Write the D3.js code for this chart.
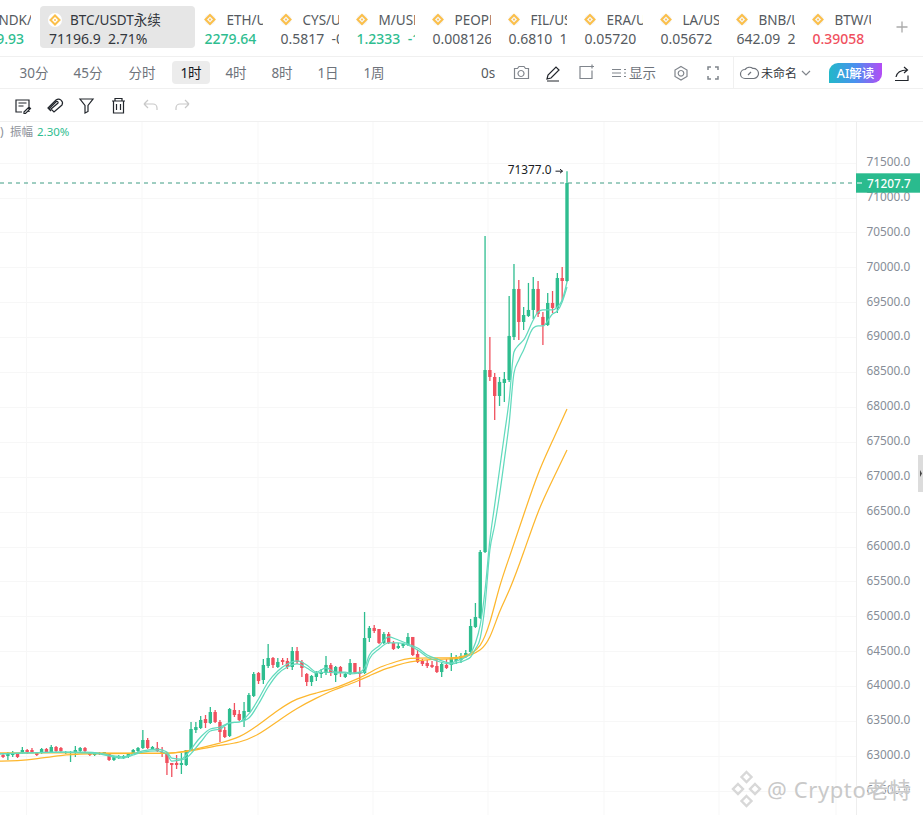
<!DOCTYPE html>
<html>
<head>
<meta charset="utf-8">
<script src="https://cdn.jsdelivr.net/npm/d3@7"></script>
<style>
html, body { margin: 0; padding: 0; background: #fff; overflow: hidden; }
svg { display: block; font-family: "Noto Sans", "Noto Sans CJK SC", sans-serif; }
</style>
</head>
<body>
<script>
// hourly candles, oldest first
var opens = [
	63014,63014,63000,63014,63043,63043,63086,63086,63043,63043,
	63100,63057,63129,63115,63043,63043,63043,63072,63115,63057,
	63014,63043,63043,63043,62943,62971,62971,62986,63043,63072,
	63115,63229,63100,63115,63057,63043,62900,62900,62871,62871,
	63086,63372,63401,63530,63473,63630,63487,63372,63287,63659,
	63602,63516,63630,63860,64189,64089,64289,64404,64275,64375,
	64361,64275,64504,64347,64175,64060,64132,64175,64189,64304,
	64160,64275,64132,64175,64332,64203,64189,64690,64834,64819,
	64619,64748,64619,64547,64576,64590,64705,64461,64361,64332,
	64304,64289,64203,64304,64304,64361,64375,64418,64490,64848,
	64977,65922,68529,68429,68157,68343,68386,69002,69690,69217,
	69303,69389,69690,69289,69174,69489,69418,69847,69804];
var highs = [
	63057,63029,63057,63072,63043,63129,63100,63115,63057,63115,
	63115,63158,63143,63129,63072,63072,63143,63129,63129,63057,
	63057,63057,63057,63043,63000,63014,63014,63043,63100,63129,
	63372,63258,63143,63200,63129,63057,62900,63014,63043,63086,
	63487,63487,63573,63587,63702,63659,63516,63415,63688,63759,
	63659,63774,63902,64203,64203,64390,64604,64418,64404,64404,
	64404,64561,64561,64375,64189,64160,64218,64246,64433,64332,
	64289,64289,64189,64390,64332,64275,65063,64862,64877,64819,
	64776,64776,64647,64619,64619,64762,64705,64519,64390,64375,
	64361,64404,64347,64390,64475,64447,64475,64519,64963,65192,
	65951,70449,69002,68486,68429,68501,69590,70048,69819,69432,
	69776,69862,69804,69360,69632,69661,69919,70005,71377];
var lows = [
	62986,62971,62943,62986,62971,63029,63029,63043,63000,63029,
	63043,63043,63057,63043,63029,62914,62986,63057,63043,63000,
	63000,63014,63029,62928,62928,62957,62957,62971,63029,63057,
	63100,63100,63086,63057,62986,62728,62699,62814,62742,62857,
	63072,63329,63387,63401,63458,63473,63200,63258,63272,63559,
	63501,63415,63630,63845,64031,64031,64261,64261,64261,64304,
	64246,64232,64318,64132,64003,64003,64074,64117,64160,64146,
	64060,64132,64117,64160,64175,63988,64175,64633,64762,64604,
	64604,64604,64519,64533,64547,64576,64433,64332,64289,64261,
	64261,64189,64132,64246,64218,64318,64332,64404,64475,64834,
	64963,65908,68372,67813,68014,68071,68358,68959,68959,69102,
	69289,69260,69289,68888,69160,69346,69346,69504,69790];
var closes = [
	63043,62986,63029,63043,62986,63086,63057,63057,63014,63100,
	63057,63129,63072,63072,63057,63057,63086,63115,63072,63014,
	63043,63029,63057,62943,62986,63000,63000,63029,63086,63115,
	63229,63115,63129,63072,63029,62900,62871,62871,62900,63086,
	63387,63415,63516,63473,63630,63487,63344,63272,63673,63587,
	63516,63645,63874,64175,64074,64304,64404,64304,64347,64347,
	64275,64504,64347,64261,64060,64146,64189,64203,64304,64189,
	64275,64189,64175,64332,64189,64175,64690,64834,64791,64619,
	64748,64619,64533,64576,64604,64705,64447,64347,64318,64289,
	64275,64203,64318,64261,64404,64390,64433,64475,64862,64991,
	65922,68529,68429,68157,68358,68401,69017,69690,69217,69317,
	69389,69690,69332,69174,69489,69418,69847,69804,71207.7];

// moving averages at these candles
var tealAt = [0,6,13,18,21,23,26,28,30,33,35,36,38,39,42,44,46,48,50,52,54,56,58,60,62,64,66,68,70,72,73,75,76,77,79,81,83,85,87,89,91,94,95,97,98,99,100,101,102,103,104,105,106,107,108,109,111,112,113,115,116,117,118];
var tealFast = [63029,63043,63057,63057,63043,63014,62986,63029,63072,63100,63057,62971,62957,63014,63272,63387,63415,63473,63487,63602,63817,64060,64218,64318,64361,64304,64203,64261,64203,64203,64189,64203,64261,64447,64576,64705,64662,64604,64547,64447,64390,64332,64361,64418,64475,64619,64877,65378,66094,66596,67097,67598,68100,68787,68888,68959,69246,69360,69389,69389,69432,69532,69790];
var tealSlow = [63029,63043,63057,63043,63029,63000,62971,63014,63057,63072,63029,62928,62943,62971,63200,63358,63387,63473,63487,63544,63745,63988,64175,64275,64318,64261,64189,64203,64189,64189,64175,64189,64203,64390,64533,64619,64619,64590,64519,64418,64361,64318,64332,64375,64418,64533,64690,65163,65951,66309,66739,67240,67770,68486,68673,68816,69131,69160,69160,69332,69375,69504,69718];
var orangeAt = [0,4,8,13,18,28,37,42,46,50,54,58,62,66,70,72,75,77,79,83,85,90,96,98,100,102,104,106,109,112,115,118];
var orangeFast = [63043,63043,63043,63043,63043,63043,63029,63115,63186,63258,63444,63659,63831,63902,63974,64031,64117,64189,64275,64361,64404,64404,64404,64461,64547,64877,65450,65836,66452,67068,67512,67971];
var orangeSlow = [62928,62928,62957,63014,63029,63043,63029,63100,63158,63186,63301,63501,63688,63831,63960,64003,64089,64146,64218,64304,64347,64390,64390,64447,64504,64662,65091,65349,65908,66524,66954,67383];

var priceTicks = [62500,63000,63500,64000,64500,65000,65500,66000,66500,67000,67500,68000,68500,69000,69500,70000,70500,71000,71500];
var lastPrice = 71207.7;
var maxPrice = 71377.0;

var tickerNames = ['ETH/U','CYS/U','M/USD','PEOPL','FIL/US','ERA/U','LA/US','BNB/U','BTW/U'];
var tickerValues = ['2279.64','0.5817  -0','1.2333  -1','0.008126','0.6810  1','0.05720','0.05672','642.09  2','0.39058'];
var tickerColors = ['#2ebd8f','#555a60','#2ebd8f','#555a60','#555a60','#555a60','#555a60','#555a60','#f0505e'];
var periods = ['30分','45分','分时','1时','4时','8时','1日','1周'];

var w = 923;
var h = 815;
var up = '#2ebd8f';
var down = '#f0505e';
var gridColor = '#f7f7f7';

var svg = d3.select('body').append('svg').attr('width', w).attr('height', h);
var defs = svg.append('defs');

var x = d3.scaleLinear().domain([0, 118]).range([-1.76, 567]);
var y = d3.scaleLinear().domain([63000, 71500]).range([756, 162.6]);

defs.append('clipPath').attr('id', 'plot').append('rect')
	.attr('x', 0).attr('y', 122).attr('width', 856).attr('height', h - 122);

// grid
var gridV = [26.5, 142, 258, 373, 488, 604, 719, 836];
svg.append('g').selectAll('line').data(gridV).enter().append('line')
	.attr('x1', function(d) { return d; })
	.attr('x2', function(d) { return d; })
	.attr('y1', 122).attr('y2', h)
	.attr('stroke', gridColor);
svg.append('g').selectAll('line').data(priceTicks).enter().append('line')
	.attr('x1', 0).attr('x2', 856)
	.attr('y1', function(d) { return Math.round(y(d)) + 0.5; })
	.attr('y2', function(d) { return Math.round(y(d)) + 0.5; })
	.attr('stroke', gridColor);

// price axis
var axis = svg.append('g')
	.attr('transform', 'translate(856.5,-1)')
	.call(d3.axisRight(y).tickValues(priceTicks).tickSize(0).tickPadding(10)
		.tickFormat(function(d) { return d3.format('.1f')(d); }));
axis.select('.domain').attr('stroke', '#eeeeee').attr('d', 'M0,122V' + (h + 1));
axis.selectAll('text')
	.attr('fill', '#868d97')
	.style('font-size', '11.8px')
	.style('font-family', '"Noto Sans", sans-serif');

// candles
var plot = svg.append('g').attr('clip-path', 'url(#plot)');
var candleColor = function(i) { return closes[i] >= opens[i] ? up : down; };
plot.append('g').selectAll('line').data(d3.range(opens.length)).enter().append('line')
	.attr('x1', function(i) { return x(i); })
	.attr('x2', function(i) { return x(i); })
	.attr('y1', function(i) { return y(highs[i]); })
	.attr('y2', function(i) { return y(lows[i]); })
	.attr('stroke', candleColor)
	.attr('stroke-width', 1.3);
plot.append('g').selectAll('rect').data(d3.range(opens.length)).enter().append('rect')
	.attr('x', function(i) { return x(i) - 1.7; })
	.attr('width', 3.4)
	.attr('y', function(i) { return y(Math.max(opens[i], closes[i])); })
	.attr('height', function(i) { return Math.max(1, Math.abs(y(opens[i]) - y(closes[i]))); })
	.attr('fill', candleColor);

// moving average lines
function maLine(at, values, color, curve) {
	var line = d3.line()
		.x(function(d, i) { return x(at[i]); })
		.y(function(d) { return y(d); })
		.curve(curve);
	plot.append('path')
		.attr('d', line(values))
		.attr('fill', 'none')
		.attr('stroke', color)
		.attr('stroke-width', 1.25);
}
maLine(orangeAt, orangeSlow, '#fdb72e', d3.curveBasis);
maLine(orangeAt, orangeFast, '#fdb72e', d3.curveBasis);
maLine(tealAt, tealSlow, '#62dabd', d3.curveMonotoneX);
maLine(tealAt, tealFast, '#62dabd', d3.curveMonotoneX);

// last price line and tag
svg.append('line')
	.attr('x1', 0).attr('x2', 856)
	.attr('y1', y(lastPrice)).attr('y2', y(lastPrice))
	.attr('stroke', '#3f9c83')
	.attr('stroke-dasharray', '4,4');
svg.append('rect')
	.attr('x', 856).attr('y', y(lastPrice) - 9.7)
	.attr('width', 64).attr('height', 19.4)
	.attr('fill', '#2abb8e');
svg.append('line')
	.attr('x1', 857).attr('x2', 862)
	.attr('y1', y(lastPrice)).attr('y2', y(lastPrice))
	.attr('stroke', '#fff');
svg.append('text')
	.attr('x', 867).attr('y', y(lastPrice) + 4.5)
	.attr('fill', '#fff')
	.style('font-size', '11.8px').style('font-weight', 500)
	.text(d3.format('.1f')(lastPrice));

// max marker
svg.append('text')
	.attr('x', 551.5).attr('y', y(maxPrice) + 3)
	.attr('text-anchor', 'end')
	.attr('fill', '#1a1d24')
	.style('font-size', '11.8px')
	.text(d3.format('.1f')(maxPrice));
svg.append('path')
	.attr('d', 'M555.5,' + y(maxPrice) + 'h7m-2.5,-2l2.5,2l-2.5,2')
	.attr('fill', 'none').attr('stroke', '#1a1d24');

// header rows
[56, 88, 121].forEach(function(yy) {
	svg.append('line').attr('x1', 0).attr('x2', w).attr('y1', yy + 0.5).attr('y2', yy + 0.5).attr('stroke', '#f0f0f0');
});
svg.append('line').attr('x1', 733.5).attr('x2', 733.5).attr('y1', 57).attr('y2', 88).attr('stroke', '#f0f0f0');

function clipped(id, x0, x1) {
	defs.append('clipPath').attr('id', id).append('rect')
		.attr('x', x0).attr('y', 0).attr('width', x1 - x0).attr('height', 56);
	return svg.append('g').attr('clip-path', 'url(#' + id + ')');
}
function coin(cx, cy, r, bg) {
	svg.append('circle').attr('cx', cx).attr('cy', cy).attr('r', r).attr('fill', bg);
	svg.append('path')
		.attr('d', 'M' + cx + ',' + (cy - 4.5) + 'l4.5,4.5l-4.5,4.5l-4.5,-4.5z')
		.attr('fill', 'none').attr('stroke', '#fbbf4a').attr('stroke-width', 2);
	svg.append('circle').attr('cx', cx).attr('cy', cy).attr('r', 1).attr('fill', '#fbbf4a');
}

// cut off first ticker
var g0 = clipped('t0', 0, 31);
g0.append('text').attr('x', -9).attr('y', 25).attr('fill', '#555a60').style('font-size', '13.5px').text('SNDK/');
g0.append('text').attr('x', 24).attr('y', 44).attr('text-anchor', 'end').attr('fill', up).style('font-size', '14px').style('font-weight', 500).text('9.93');

// selected ticker
svg.append('rect').attr('x', 40).attr('y', 6).attr('width', 155).attr('height', 42).attr('rx', 4).attr('fill', '#e6e6e6');
coin(55, 20, 7, '#fff');
svg.append('text').attr('x', 70).attr('y', 25).attr('fill', '#33373d').style('font-size', '13.5px').text('BTC/USDT永续');
svg.append('text').attr('x', 49).attr('y', 44).attr('fill', '#33373d')
	.style('font-size', '14px').style('white-space', 'pre').text('71196.9  2.71%');

// other tickers
tickerNames.forEach(function(name, i) {
	var cx = 210 + 76 * i;
	var g = clipped('tick' + i, cx - 8, cx + 53);
	coin(cx, 19.5, 5.5, '#f5f5f5');
	g.append('text').attr('x', cx + 16.5).attr('y', 24.5).attr('fill', '#555a60').style('font-size', '13.5px').text(name);
	g.append('text').attr('x', cx - 5.5).attr('y', 43.5).attr('fill', tickerColors[i])
		.style('font-size', '14px').style('white-space', 'pre').style('font-weight', tickerColors[i] == '#555a60' ? 400 : 500)
		.text(tickerValues[i]);
});
svg.append('path').attr('d', 'M902,21.5v11M896.5,27h11').attr('stroke', '#aaaaaa').attr('stroke-width', 1.3).attr('fill', 'none');

// period row
var periodX = [34, 88, 142, 191, 236, 282, 328, 374];
svg.append('rect').attr('x', 172).attr('y', 61).attr('width', 38).attr('height', 23).attr('rx', 4).attr('fill', '#ececec');
svg.append('g').selectAll('text').data(periods).enter().append('text')
	.attr('x', function(d, i) { return periodX[i]; })
	.attr('y', 78)
	.attr('text-anchor', 'middle')
	.attr('fill', function(d) { return d == '1时' ? '#15181e' : '#6e737b'; })
	.style('font-size', '13.5px')
	.text(function(d) { return d; });

svg.append('text').attr('x', 481).attr('y', 78).attr('fill', '#555a60').style('font-size', '13.5px').text('0s');
svg.append('text').attr('x', 629).attr('y', 78).attr('fill', '#6e737b').style('font-size', '13.5px').text('显示');
svg.append('text').attr('x', 761).attr('y', 78).attr('fill', '#33373d').style('font-size', '12px').text('未命名');

var icon = function(d, color, sw) {
	svg.append('path').attr('d', d).attr('fill', 'none').attr('stroke', color || '#6e737b').attr('stroke-width', sw || 1.2);
};
icon('M514.5,68.5h3l1.5,-2h5l1.5,2h3v10h-14zM521,70.5a3,3 0 1,0 0.01,0', '#80858c');
icon('M547,79l1,-4l8,-8l3,3l-8,8zM547,81h12', '#22262c');
icon('M590,66.5h-10v12h12v-8M592,64.5v4M590,66.5h4', '#80858c');
icon('M612,69.5h9M612,73h9M612,76.5h9M624,69.5h2M624,73h2M624,76.5h2', '#80858c');
icon('M681,66.5l6,3.5v6.5l-6,3.5l-6,-3.5v-6.5zM681,70.5a2.8,2.8 0 1,0 0.01,0', '#80858c');
icon('M708,70v-3h3M718,70v-3h-3M708,76v3h3M718,76v3h-3', '#80858c', 1.5);
icon('M745,78.5a4.5,4.5 0 0,1 0,-9a6,6 0 0,1 8,-1a5,5 0 0,1 1,10zM748,75l3,-3', '#6e737b');
icon('M802,71l4,4l4,-4', '#80858c');
icon('M895,80.5h13v-5M896,77c1,-5 5,-7 11,-7M904,67l3.5,3l-3.5,3', '#22262c');

// AI pill
var grad = defs.append('linearGradient').attr('id', 'ai');
grad.append('stop').attr('offset', '0%').attr('stop-color', '#22b8c9');
grad.append('stop').attr('offset', '50%').attr('stop-color', '#4a90ef');
grad.append('stop').attr('offset', '100%').attr('stop-color', '#b44cf5');
svg.append('path').attr('d', 'M829,83v-11a9,9 0 0,1 9,-9h44v11a9,9 0 0,1 -9,9z').attr('fill', 'url(#ai)');
svg.append('text').attr('x', 855.5).attr('y', 78).attr('text-anchor', 'middle').attr('fill', '#fff')
	.style('font-size', '12.5px').style('font-weight', 500).text('AI解读');

// drawing tools row
icon('M29,112v-12h-13v12h6M18.5,103h8M18.5,106h5M24,112l5,-5l1.5,1.5l-5,5h-1.5z', '#22262c');
icon('M48,108l8,-8a4,4 0 0,1 6,5l-8,7l-3,-3l7,-6a1,1 0 0,0 -2,-1l-7,7zM48,108l3,3', '#22262c');
icon('M80,99h13l-5,6.5v6l-3,1.5v-7.5z', '#22262c');
icon('M112,101h13M115,101v-2.5h7v2.5M113.5,101v12h10v-12M116.5,104v6M120.5,104v6', '#22262c');
icon('M144,104l4,-4M144,104l4,4M144,104h9a4,4 0 0,1 4,4v2', '#c8c8c8');
icon('M189,104l-4,-4M189,104l-4,4M189,104h-9a4,4 0 0,0 -4,4v2', '#c8c8c8');

// legend fragment
svg.append('text').attr('x', 0).attr('y', 136).attr('fill', '#8d929a').style('font-size', '12px').text(')');
svg.append('text').attr('x', 10).attr('y', 136).attr('fill', '#8d929a').style('font-size', '11.5px').text('振幅');
svg.append('text').attr('x', 37).attr('y', 136).attr('fill', up).style('font-size', '11.5px').text('2.30%');

// side handle
svg.append('rect').attr('x', 918).attr('y', 455).attr('width', 5).attr('height', 37).attr('fill', '#dcdcdc');
svg.append('path').attr('d', 'M920,470l2,3.5l-2,3.5z').attr('fill', '#444');

// watermark
var wm = svg.append('g').attr('fill', 'none').attr('stroke', '#d8d8d8').attr('stroke-width', 2.4);
[[746.5,777],[738,789],[755,789],[746.5,801]].forEach(function(p) {
	wm.append('path').attr('d', 'M' + p[0] + ',' + (p[1] - 5) + 'l5,5l-5,5l-5,-5z');
});
svg.append('text').attr('x', 767).attr('y', 798)
	.attr('fill', '#c9c9c9')
	.style('font-size', '22px')
	.style('letter-spacing', '0.6px')
	.style('paint-order', 'stroke')
	.style('stroke', 'rgba(255,255,255,0.6)')
	.style('stroke-width', '1.5px')
	.text('@ Crypto老特');
</script>
</body>
</html>
